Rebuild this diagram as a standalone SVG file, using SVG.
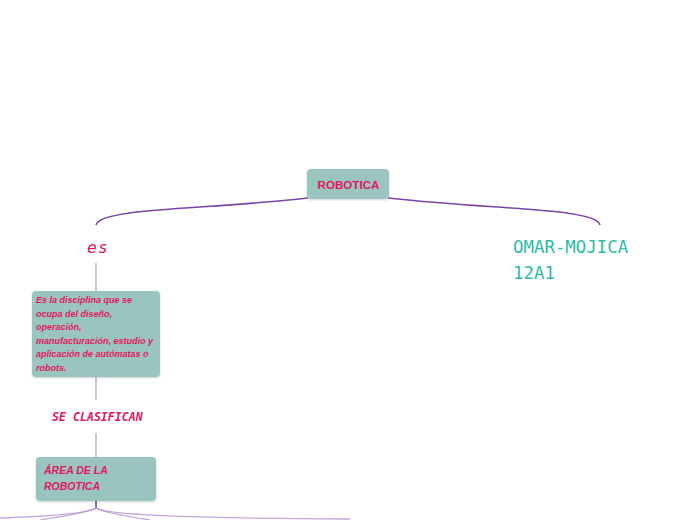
<svg xmlns="http://www.w3.org/2000/svg" width="696" height="520" viewBox="0 0 696 520">
<defs>
<filter id="sh" x="-10%" y="-10%" width="120%" height="130%">
<feDropShadow dx="0" dy="1" stdDeviation="1" flood-color="#000" flood-opacity="0.18"/>
</filter>
</defs>
<style>
.box{fill:#99c4c0;filter:url(#sh)}
.pk{fill:#e0195e}
.mono{font-family:"DejaVu Sans Mono","Liberation Mono",monospace}
.sans{font-family:"Liberation Sans","Open Sans",sans-serif}
.main{fill:none;stroke:#7b45a5;stroke-width:1.6}
.sub{fill:none;stroke:#b79ad2;stroke-width:1.2}
.fan{fill:none;stroke:#b48fd0;stroke-width:1.3;opacity:0.8}
</style>
<rect width="696" height="520" fill="#fff"/>
<g id="connectors">
<path class="main" d="M308,198 C200,210 100,208 96,225"/>
<path class="main" d="M388,198 C496,210 596,208 600,225"/>
<line class="sub" x1="96" y1="263" x2="96" y2="291"/>
<line class="sub" x1="96" y1="377" x2="96" y2="400"/>
<line class="sub" x1="96" y1="433" x2="96" y2="457"/>
<line stroke="#7b45a5" stroke-width="1.6" x1="96" y1="501" x2="96" y2="509"/>
<path class="fan" d="M96,508 C85,515 30,517 0,518"/>
<path class="fan" d="M96,508 C88,513 60,517 40,520"/>
<path class="fan" d="M96,508 C104,513 130,517 150,520"/>
<path class="fan" d="M96,508 C110,516 200,518 350,519"/>
</g>
<g id="root">
<rect class="box" x="307" y="169" width="82" height="30" rx="4"/>
<text class="sans pk" x="348.5" y="189" font-size="11.6" font-weight="bold" text-anchor="middle">ROBOTICA</text>
</g>
<g id="es">
<text class="mono pk" x="87" y="253" font-size="16.5" font-style="italic" letter-spacing="1">es</text>
</g>
<g id="omar">
<text class="mono" x="513" y="253" font-size="17.4" fill="#2bbda5">OMAR-MOJICA</text>
<text class="mono" x="513" y="279" font-size="17.4" fill="#2bbda5">12A1</text>
</g>
<g id="definicion">
<rect class="box" x="32" y="291" width="128" height="86" rx="4"/>
<text class="sans pk" font-size="9" font-style="italic" font-weight="bold">
<tspan x="36" y="303">Es la disciplina que se</tspan>
<tspan x="36" y="317">ocupa del diseño,</tspan>
<tspan x="36" y="330">operación,</tspan>
<tspan x="36" y="344">manufacturación, estudio y</tspan>
<tspan x="36" y="357">aplicación de autómatas o</tspan>
<tspan x="36" y="371">robots.</tspan>
</text>
</g>
<g id="clasifican">
<text class="mono pk" x="52" y="421" font-size="11.6" font-style="italic" font-weight="bold">SE CLASIFICAN</text>
</g>
<g id="area">
<rect class="box" x="36" y="457" width="120" height="44" rx="4"/>
<text class="sans pk" font-size="10.5" font-style="italic" font-weight="bold">
<tspan x="44" y="474">ÁREA DE LA</tspan>
<tspan x="44" y="490">ROBOTICA</tspan>
</text>
</g>
</svg>
